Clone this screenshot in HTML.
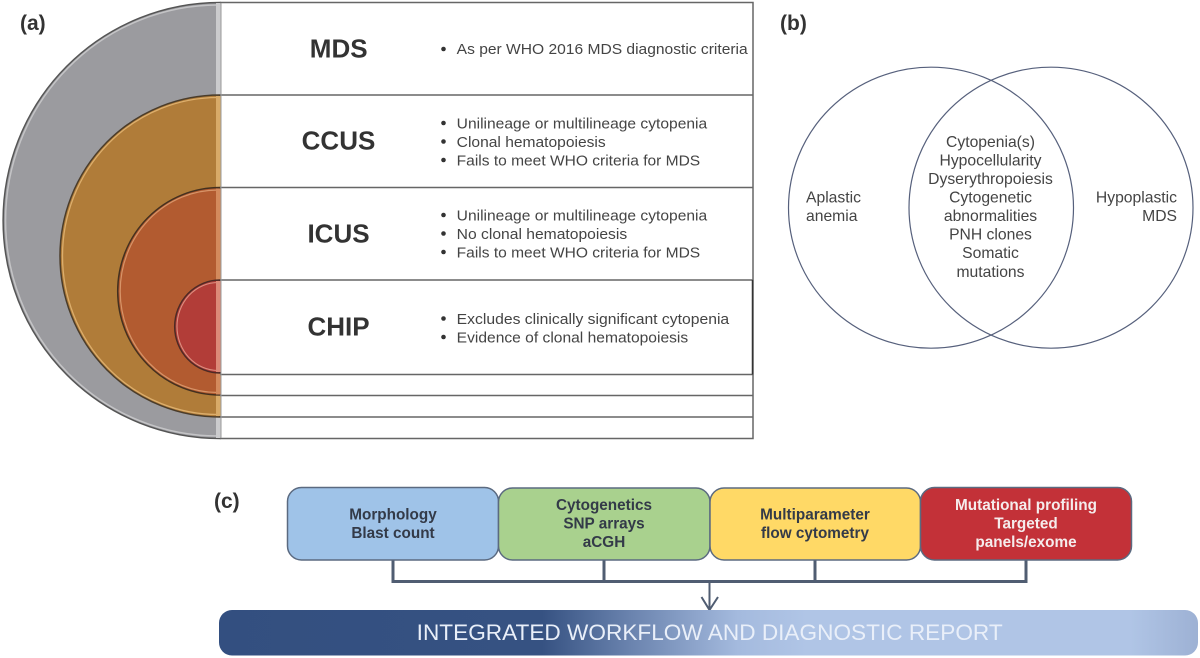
<!DOCTYPE html>
<html lang="en">
<head>
<meta charset="utf-8">
<title>MDS diagnostic diagram</title>
<style>
html,body{margin:0;padding:0;background:#fff;width:1200px;height:658px;overflow:hidden}
svg{display:block;filter:blur(.35px)}
text{font-family:"Liberation Sans",Arial,sans-serif}
.h{font-size:26px;font-weight:700;fill:#333;text-anchor:middle}
.t{font-size:15px;fill:#444}
.v{font-size:15.7px;fill:#444}
.m{text-anchor:middle}
.l{font-size:21px;font-weight:700;fill:#333}
.c{font-size:15.3px;font-weight:700;fill:#333a48;text-anchor:middle}
</style>
</head>
<body>
<svg width="1200" height="658" viewBox="0 0 1200 658" xmlns="http://www.w3.org/2000/svg">
<defs>
<linearGradient id="bar" x1="219" x2="1198" y1="0" y2="0" gradientUnits="userSpaceOnUse">
<stop offset="0" stop-color="#334f80"/>
<stop offset=".33" stop-color="#365282"/>
<stop offset=".42" stop-color="#6a83ae"/>
<stop offset=".53" stop-color="#a4bade"/>
<stop offset=".6" stop-color="#b0c5e6"/>
<stop offset=".93" stop-color="#b0c5e6"/>
<stop offset="1" stop-color="#9db1d4"/>
</linearGradient>
</defs>

<!-- (a) nested semicircles -->
<path d="M220 2.5A217 218 0 0 0 220 438.500Z" fill="#9b9b9f" stroke="#555" stroke-width="1.5"/>
<path d="M218 5A212.500 215.500 0 0 0 218 436" fill="none" stroke="#c4c4c6" stroke-width="1.500"/>
<rect x="216" y="3" width="4.500" height="435" fill="#cbcbcd"/>
<path d="M220 95A160 161 0 0 0 220 417Z" fill="#b07c39" stroke="#4a3c2a" stroke-width="1.500"/>
<path d="M218 97.500A155.500 158.500 0 0 0 218 414.500" fill="none" stroke="#dcae6c" stroke-width="1.300"/>
<rect x="216" y="96" width="4.500" height="320" fill="#d8aa68"/>
<path d="M220 187.500A102.300 103.750 0 0 0 220 395Z" fill="#b25b30" stroke="#44301f" stroke-width="1.500"/>
<path d="M218 190A97.800 101.250 0 0 0 218 392.500" fill="none" stroke="#d79468" stroke-width="1.200"/>
<rect x="216" y="188.500" width="4.500" height="206" fill="#d38a5c"/>
<path d="M220 280A45.300 46.500 0 0 0 220 373Z" fill="#b23d38" stroke="#4d2a25" stroke-width="1.500"/>
<path d="M218 282.500A41 44 0 0 0 218 370.500" fill="none" stroke="#dc8f80" stroke-width="1.100"/>
<rect x="216" y="281" width="4.500" height="91" fill="#dc8a78"/>

<!-- (a) table lines -->
<g stroke="#666" stroke-width="1.500" fill="none">
<path d="M220 2.500H753V438.500H220"/>
<path d="M220 95H753M220 187.500H753M220 280H753M220 374.500H753M220 395.500H753M220 417H753"/>
<path d="M752.500 280V374.500" stroke="#333"/>
<path d="M221 3V438" stroke="#999" stroke-width="1"/>
</g>

<text class="l" x="20" y="30">(a)</text>
<text class="l" x="780" y="30">(b)</text>
<text class="l" x="214" y="508">(c)</text>

<text class="h" x="338.700" y="57.700">MDS</text>
<text class="h" x="338.500" y="149.300">CCUS</text>
<text class="h" x="338.500" y="242.300">ICUS</text>
<text class="h" x="338.500" y="335.700">CHIP</text>

<g fill="#333">
<circle cx="443.500" cy="49" r="2.300"/>
<circle cx="443.500" cy="123" r="2.300"/><circle cx="443.500" cy="141.500" r="2.300"/><circle cx="443.500" cy="160" r="2.300"/>
<circle cx="443.500" cy="215" r="2.300"/><circle cx="443.500" cy="233.500" r="2.300"/><circle cx="443.500" cy="252" r="2.300"/>
<circle cx="443.500" cy="318.500" r="2.300"/><circle cx="443.500" cy="337" r="2.300"/>
</g>
<g class="t">
<text class="t" x="456.700" y="54" textLength="291" lengthAdjust="spacingAndGlyphs">As per WHO 2016 MDS diagnostic criteria</text>
<text class="t" x="456.700" y="128.300" textLength="250.500" lengthAdjust="spacingAndGlyphs">Unilineage or multilineage cytopenia</text>
<text class="t" x="456.700" y="146.800" textLength="149" lengthAdjust="spacingAndGlyphs">Clonal hematopoiesis</text>
<text class="t" x="456.700" y="165.300" textLength="243.500" lengthAdjust="spacingAndGlyphs">Fails to meet WHO criteria for MDS</text>
<text class="t" x="456.700" y="220.700" textLength="250.500" lengthAdjust="spacingAndGlyphs">Unilineage or multilineage cytopenia</text>
<text class="t" x="456.700" y="239.200" textLength="170.500" lengthAdjust="spacingAndGlyphs">No clonal hematopoiesis</text>
<text class="t" x="456.700" y="257.700" textLength="243.500" lengthAdjust="spacingAndGlyphs">Fails to meet WHO criteria for MDS</text>
<text class="t" x="456.700" y="324" textLength="272.500" lengthAdjust="spacingAndGlyphs">Excludes clinically significant cytopenia</text>
<text class="t" x="456.700" y="342.600" textLength="231.500" lengthAdjust="spacingAndGlyphs">Evidence of clonal hematopoiesis</text>
</g>

<!-- (b) venn -->
<g fill="none" stroke="#56607c" stroke-width="1.200">
<ellipse cx="931" cy="207.700" rx="142.500" ry="140.500"/>
<ellipse cx="1051" cy="207.700" rx="142" ry="140.500"/>
</g>
<text class="v" x="806" y="202.500">Aplastic</text>
<text class="v" x="806" y="221">anemia</text>
<text class="v" x="1177" y="202.500" text-anchor="end">Hypoplastic</text>
<text class="v" x="1177" y="221" text-anchor="end">MDS</text>
<g text-anchor="middle">
<text class="v m" x="990.500" y="147">Cytopenia(s)</text>
<text class="v m" x="990.500" y="165.500">Hypocellularity</text>
<text class="v m" x="990.500" y="184">Dyserythropoiesis</text>
<text class="v m" x="990.500" y="202.500">Cytogenetic</text>
<text class="v m" x="990.500" y="221">abnormalities</text>
<text class="v m" x="990.500" y="239.600">PNH clones</text>
<text class="v m" x="990.500" y="258.200">Somatic</text>
<text class="v m" x="990.500" y="276.800">mutations</text>
</g>

<!-- (c) workflow -->
<g fill="none" stroke="#505d72" stroke-width="3">
<path d="M393 560V581.500H1026V560M604 560V581.500M815 560V581.500"/>
</g>
<g fill="none" stroke="#505d72" stroke-width="2">
<path d="M709.500 581V610M701.500 597L709.500 610L718 597"/>
</g>
<g stroke="#5b6a80" stroke-width="1.500">
<rect x="287.500" y="487.500" width="211" height="72.500" rx="14" fill="#9fc3e8"/>
<rect x="498.500" y="488" width="211.500" height="72" rx="14" fill="#a9d18e"/>
<rect x="710" y="488" width="210.500" height="72" rx="14" fill="#ffd966"/>
<rect x="920.500" y="487.500" width="211" height="72.500" rx="14" fill="#c33138"/>
</g>
<text class="c" x="393" y="519.300">Morphology</text>
<text class="c" x="393" y="537.800">Blast count</text>
<text class="c" x="604" y="510">Cytogenetics</text>
<text class="c" x="604" y="528.500">SNP arrays</text>
<text class="c" x="604" y="547">aCGH</text>
<text class="c" x="815" y="519.300">Multiparameter</text>
<text class="c" x="815" y="537.800">flow cytometry</text>
<text class="c" x="1026" y="510" style="fill:#f5ecec">Mutational profiling</text>
<text class="c" x="1026" y="528.500" style="fill:#f5ecec">Targeted</text>
<text class="c" x="1026" y="547" style="fill:#f5ecec">panels/exome</text>

<rect x="219" y="610" width="979" height="45.500" rx="13" fill="url(#bar)"/>
<text x="416.700" y="640" font-size="22" fill="#e9eff9" textLength="586" lengthAdjust="spacingAndGlyphs">INTEGRATED WORKFLOW AND DIAGNOSTIC REPORT</text>
</svg>
</body>
</html>
